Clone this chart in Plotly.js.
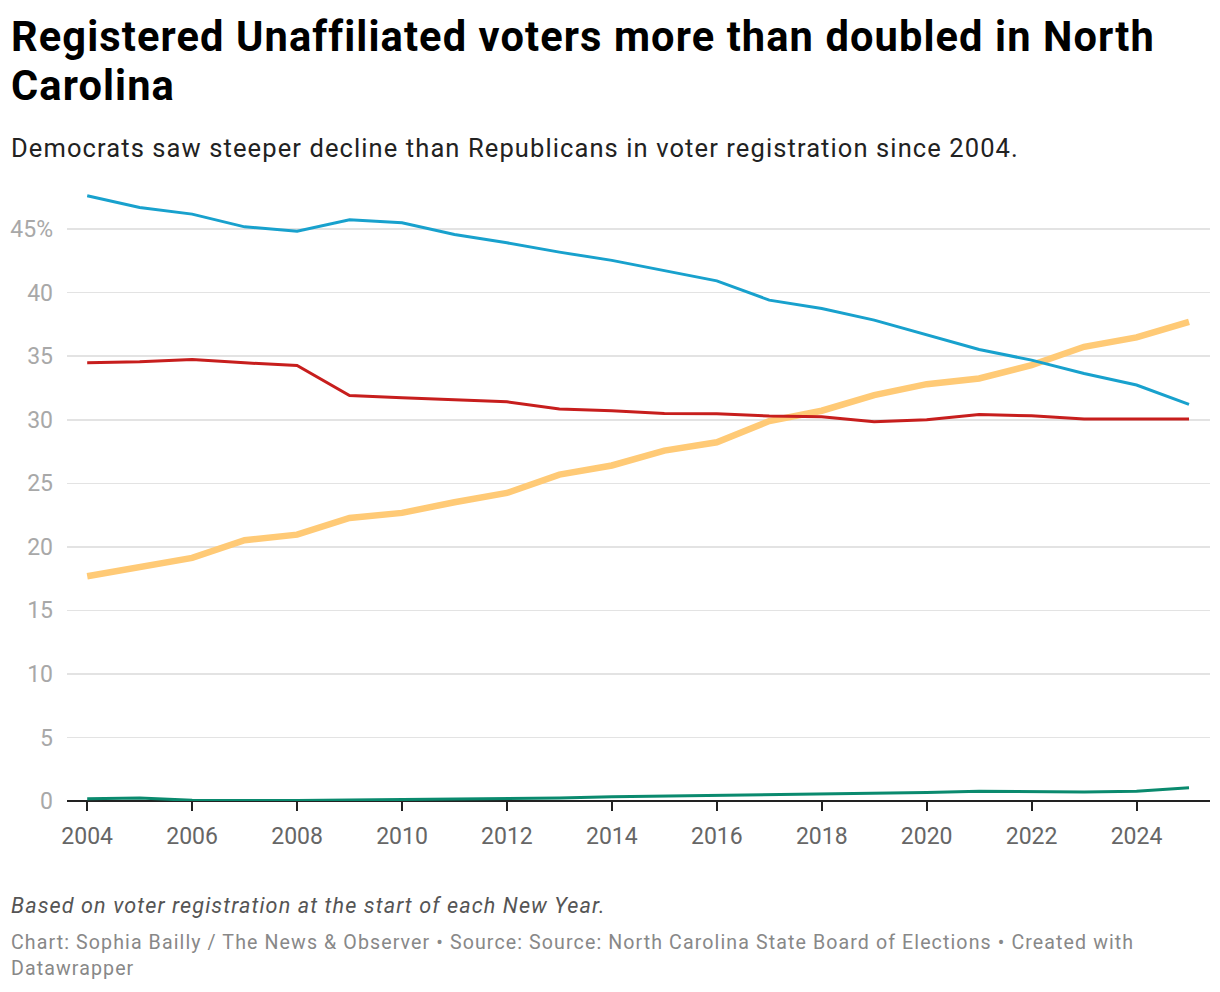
<!DOCTYPE html>
<html>
<head>
<meta charset="utf-8">
<script src="https://cdn.plot.ly/plotly-3.0.1.min.js"></script>
<style>
  html, body { margin: 0; padding: 0; background: #fff; }
  #chart { width: 1220px; height: 992px; }
  .annotation-text { letter-spacing: 1.1px; }
</style>
</head>
<body>
<div id="chart"></div>
<script>
const years = [2004,2005,2006,2007,2008,2009,2010,2011,2012,2013,2014,2015,2016,2017,2018,2019,2020,2021,2022,2023,2024,2025];
const democrats = [47.62,46.70,46.18,45.18,44.84,45.73,45.50,44.58,43.92,43.19,42.54,41.72,40.93,39.41,38.76,37.84,36.66,35.53,34.69,33.64,32.73,31.21];
const republicans = [34.48,34.56,34.75,34.48,34.27,31.91,31.73,31.57,31.41,30.84,30.71,30.50,30.47,30.29,30.24,29.84,30.00,30.42,30.31,30.05,30.05,30.05];
const unaffiliated = [17.68,18.47,19.13,20.52,20.96,22.27,22.67,23.51,24.24,25.68,26.40,27.57,28.23,29.90,30.71,31.94,32.80,33.25,34.30,35.74,36.48,37.71];
const others = [0.18,0.24,0.05,0.03,0.03,0.08,0.13,0.16,0.18,0.24,0.34,0.39,0.45,0.50,0.52,0.60,0.66,0.76,0.71,0.71,0.76,1.05];

const yTickVals = [0,5,10,15,20,25,30,35,40,45];
const yTickText = ["0","5","10","15","20","25","30","35","40","45%"];
const xTickVals = [2004,2006,2008,2010,2012,2014,2016,2018,2020,2022,2024];

const titleLine1 = "Registered Unaffiliated voters more than doubled in North";
const titleLine2 = "Carolina";
const subtitleText = "Democrats saw steeper decline than Republicans in voter registration since 2004.";
const noteText = "Based on voter registration at the start of each New Year.";
const creditLine1 = "Chart: Sophia Bailly / The News &amp; Observer • Source: Source: North Carolina State Board of Elections • Created with";
const creditLine2 = "Datawrapper";

const FONT = "Roboto, 'Noto Sans', sans-serif";

const traces = [
  {x: years, y: unaffiliated, name: "Unaffiliated", mode: "lines", line: {color: "#ffca76", width: 6.5}},
  {x: years, y: others, name: "Other", mode: "lines", line: {color: "#0a8a6e", width: 3}},
  {x: years, y: republicans, name: "Republicans", mode: "lines", line: {color: "#c71e1d", width: 3}},
  {x: years, y: democrats, name: "Democrats", mode: "lines", line: {color: "#18a1cd", width: 3}}
];

const L = 66.5, R = 10, T = 190.5, B = 191;
const W = 1220, H = 992;
const pw = W - L - R, ph = H - T - B;
const px = v => (v - L) / pw;
const py = v => (H - B - v) / ph;

function textNote(x, y, text, font) {
  return {xref: "paper", yref: "paper", x: px(x), y: py(y), xanchor: "left", yanchor: "middle",
          align: "left", showarrow: false, text: text, font: font, borderpad: 0};
}

const layout = {
  width: W, height: H,
  margin: {l: L, r: R, t: T, b: B, pad: 0},
  paper_bgcolor: "#ffffff",
  plot_bgcolor: "#ffffff",
  showlegend: false,
  hovermode: false,
  font: {family: FONT},
  xaxis: {
    range: [2003.615, 2025.40],
    tickvals: xTickVals,
    ticks: "outside",
    ticklen: 9,
    tickwidth: 2,
    tickcolor: "#222",
    showline: false,
    showgrid: false,
    zeroline: false,
    tickfont: {family: FONT, size: 23, color: "#666"},
    ticklabelstandoff: 5
  },
  yaxis: {
    range: [0, 48],
    tickvals: yTickVals,
    ticktext: yTickText,
    showgrid: true,
    gridcolor: "#e3e3e3",
    gridwidth: 1.5,
    zeroline: true,
    zerolinecolor: "#222",
    zerolinewidth: 2,
    ticks: "",
    showline: false,
    tickfont: {family: FONT, size: 23, color: "#a8a8a8"},
    ticklabelstandoff: 13
  },
  annotations: [
    textNote(9, 36, "<b>" + titleLine1 + "</b>", {family: FONT, size: 41.6, color: "#000"}),
    textNote(9, 85, "<b>" + titleLine2 + "</b>", {family: FONT, size: 41.6, color: "#000"}),
    textNote(9, 147, subtitleText, {family: FONT, size: 25.5, color: "#222"}),
    textNote(9, 906, "<i>" + noteText + "</i>", {family: FONT, size: 21.6, color: "#555"}),
    textNote(9, 943, creditLine1, {family: FONT, size: 19.6, color: "#888"}),
    textNote(9, 969, creditLine2, {family: FONT, size: 19.6, color: "#888"})
  ]
};

Plotly.newPlot("chart", traces, layout, {displayModeBar: false, staticPlot: true});
</script>
</body>
</html>
